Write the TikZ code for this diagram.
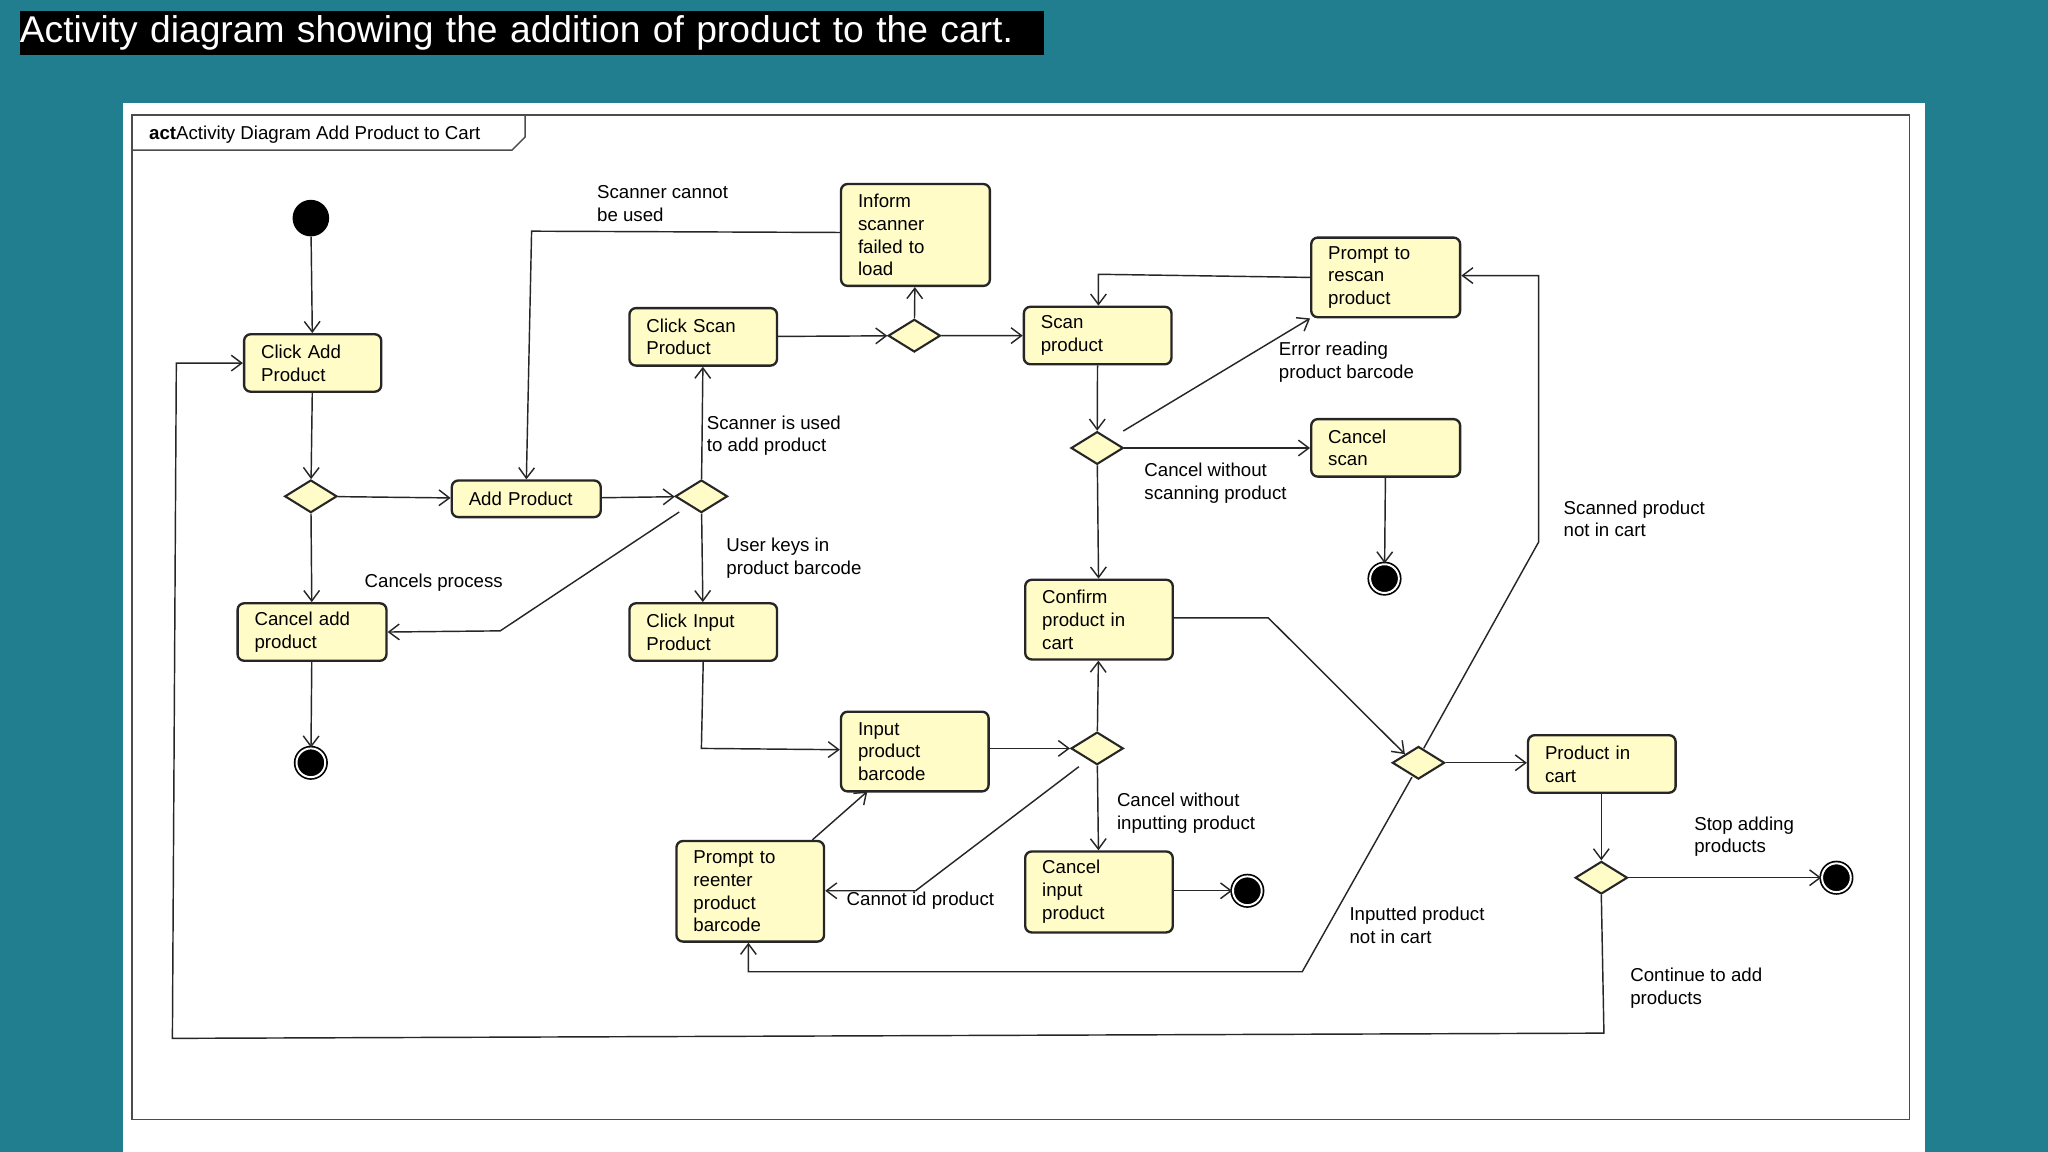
\documentclass[tikz,border=0pt]{standalone}
\usepackage{fontspec}
\setmainfont{Liberation Sans}
\usetikzlibrary{shapes.geometric,arrows.meta}
\definecolor{teal}{HTML}{217E8F}
\definecolor{boxfill}{HTML}{FFFCC8}
\begin{document}
\begin{tikzpicture}[x=1pt,y=-1pt,
 act/.style={draw=black!85,fill=boxfill,rounded corners=5,line width=1.8,align=left,inner xsep=13,inner ysep=2,font=\fontsize{14.3}{17.5}\selectfont,anchor=north west},
 dia/.style={draw=black!85,fill=boxfill,diamond,minimum width=40,minimum height=25,inner sep=0,line width=1.6},
 startn/.style={circle,fill=black,minimum size=28,inner sep=0},
 endn/.style={circle,draw=black,line width=1.3,fill=black,double=white,double distance=1.5,minimum size=22,inner sep=0},
 lbl/.style={anchor=north west,align=left,inner sep=0,font=\fontsize{14.3}{17.5}\selectfont},
 e/.style={draw=black!85,line width=1.1,-{Straight Barb[length=8,width=12]}}]
\useasboundingbox (0,0) rectangle (1568,882);
\fill[teal] (0,0) rectangle (1568,882);
\node[fill=black,text=white,anchor=north west,inner sep=0,minimum width=784,minimum height=34,font=\fontsize{28.5}{32}\selectfont,align=left,text width=784] (title) at (15,8) {Activity diagram showing the addition of product to the cart.};
\fill[white] (94,79) rectangle (1474,882);
\draw[black!70,line width=1.1] (101,88) rectangle (1462,857);
\draw[black!70,line width=1.1] (101,115) -- (392,115) -- (402,105) -- (402,88);
\node[lbl,font=\fontsize{14.3}{16}\selectfont] (tag) at (114,96) {\textbf{act}Activity Diagram Add Product to Cart};

\node[startn] (start) at (238,167) {};
\node[act,minimum width=105,minimum height=44,text width=79] (clickadd) at (186,255) {Click Add\\Product};
\node[dia] (d1) at (238,380) {};
\node[act,minimum width=114,minimum height=28,text width=88] (addp) at (345,367) {Add Product};
\node[dia] (d2) at (537,380) {};
\node[act,minimum width=114,minimum height=44,text width=88] (canceladd) at (181,461) {Cancel add\\product};
\node[endn] (end1) at (238,584) {};
\node[act,minimum width=113,minimum height=44,text width=87] (clickscan) at (481,235) {Click Scan\\Product};
\node[dia] (d3) at (700,257) {};
\node[act,minimum width=114,minimum height=78,text width=88] (inform) at (643,140) {Inform\\scanner\\failed to\\load};
\node[act,minimum width=113,minimum height=44,text width=87] (scan) at (783,234) {Scan\\product};
\node[act,minimum width=114,minimum height=61,text width=88] (rescan) at (1003,181) {Prompt to\\rescan\\product};
\node[dia] (d4) at (840,343) {};
\node[act,minimum width=114,minimum height=44,text width=88] (cancelscan) at (1003,320) {Cancel\\scan};
\node[endn] (end2) at (1060,443) {};
\node[act,minimum width=113,minimum height=61,text width=87] (confirm) at (784,443) {Confirm\\product in\\cart};
\node[act,minimum width=113,minimum height=44,text width=87] (clickinput) at (481,461) {Click Input\\Product};
\node[act,minimum width=113,minimum height=61,text width=87] (inputbc) at (643,544) {Input\\product\\barcode};
\node[dia] (d5) at (840,573) {};
\node[act,minimum width=113,minimum height=77,text width=87] (reenter) at (517,643) {Prompt to\\reenter\\product\\barcode};
\node[act,minimum width=113,minimum height=62,text width=87] (cancelinput) at (784,651) {Cancel\\input\\product};
\node[endn] (end3) at (955,682) {};
\node[dia] (d6) at (1086,584) {};
\node[act,minimum width=113,minimum height=44,text width=87] (incart) at (1169,562) {Product in\\cart};
\node[dia] (d7) at (1226,672) {};
\node[endn] (end4) at (1406,672) {};

\node[lbl] (l1) at (457,142) {Scanner cannot\\be used};
\node[lbl] (l2) at (541,318) {Scanner is used\\to add product};
\node[lbl] (l3) at (556,412) {User keys in\\product barcode};
\node[lbl] (l4) at (279,439) {Cancels process};
\node[lbl] (l5) at (979,262) {Error reading\\product barcode};
\node[lbl] (l6) at (876,354) {Cancel without\\scanning product};
\node[lbl] (l7) at (1197,383) {Scanned product\\not in cart};
\node[lbl] (l8) at (855,607) {Cancel without\\inputting product};
\node[lbl] (l9) at (648,683) {Cannot id product};
\node[lbl] (l10) at (1033,694) {Inputted product\\not in cart};
\node[lbl] (l11) at (1297,625) {Stop adding\\products};
\node[lbl] (l12) at (1248,741) {Continue to add\\products};

\draw[e] (start) -- (clickadd);
\draw[e] (clickadd) -- (d1);
\draw[e] (d1) -- (addp);
\draw[e] (d1) -- (canceladd);
\draw[e] (canceladd) -- (end1);
\draw[e] (addp) -- (d2);
\draw[e] (d2) -- (clickscan);
\draw[e] (d2) -- (clickinput);
\draw[e] (520,392) -- (383,483) -- (canceladd.east);
\draw[e] (clickscan) -- (d3);
\draw[e] (d3) -- (inform);
\draw[e] (d3) -- (scan);
\draw[e] (inform.west |- 0,178) -- (407,177) -- (addp.north -| 403,0);
\draw[e] (scan) -- (d4);
\draw[e] (860,330) -- (rescan.south west);
\draw[e] (rescan.west) -- (841,210) -- (scan.north -| 841,0);
\draw[e] (d4) -- (cancelscan.west |- d4);
\draw[e] (cancelscan) -- (end2);
\draw[e] (d4) -- (confirm);
\draw[e] (confirm.east |- 0,473) -- (971,473) -- (d6.north west);
\draw[e] (d6) -- (incart.west |- d6);
\draw[e] (1090,573) -- (1178,415) -- (1178,211) -- (rescan.east |- 0,211);
\draw[e] (1081,595) -- (997,744) -- (573,744) -- (reenter.south -| 573,0);
\draw[e] (clickinput.south) -- (537,573) -- (inputbc.west |- 0,574);
\draw[e] (inputbc.east |- d5) -- (d5);
\draw[e] (d5) -- (confirm);
\draw[e] (d5) -- (cancelinput);
\draw[e] (cancelinput.east |- end3) -- (end3);
\draw[e] (826,587) -- (701,682) -- (reenter.east |- 0,682);
\draw[e] (622,643) -- (664,606);
\draw[e] (incart.south -| d7) -- (d7);
\draw[e] (d7) -- (end4);
\draw[e] (d7.south) -- (1228,791) -- (132,795) -- (135,278) -- (clickadd.west |- 0,278);
\end{tikzpicture}
\end{document}
